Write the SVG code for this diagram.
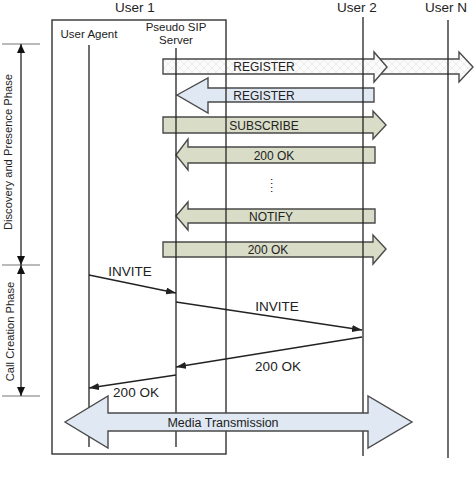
<svg xmlns="http://www.w3.org/2000/svg" width="474" height="482" viewBox="0 0 474 482">
<style>
text{font-family:"Liberation Sans",Arial,sans-serif;fill:#222}
.hdr{font-size:13.5px;text-anchor:middle}
.ent{font-size:11.5px;text-anchor:middle}
.lbl{font-size:12px;text-anchor:middle}
.cl{font-size:13.5px;text-anchor:middle}
.ph{font-size:11.2px;text-anchor:middle}
.life{stroke:#222;stroke-width:1.3;fill:none}
.box{stroke:#333;stroke-width:1.4;fill:none}
.msg{stroke:#4a4a4a;stroke-width:1.4;stroke-linejoin:miter}
.grn{fill:#d9ddc7}
.blu{fill:#dfe8f3}
.wht{fill:url(#hatch)}
.call{stroke:#222;stroke-width:1.3;fill:none;marker-end:url(#ah)}
.gl{stroke:#777;stroke-width:1.2}
.vl{stroke:#222;stroke-width:1.3}
</style>
<defs>
<pattern id="hatch" width="8" height="8" patternUnits="userSpaceOnUse">
<rect width="8" height="8" fill="#fbfbfb"/>
<path d="M0,0 L8,8 M8,0 L0,8" stroke="#ececec" stroke-width="1"/>
</pattern>
<marker id="ah" markerWidth="10" markerHeight="7" refX="10" refY="3.5" orient="auto" markerUnits="userSpaceOnUse">
<path d="M0,0 L10,3.5 L0,7 z" fill="#222"/>
</marker>
<marker id="tri" markerWidth="9" markerHeight="8" refX="9" refY="4" orient="auto" markerUnits="userSpaceOnUse">
<path d="M0,0 L9,4 L0,8 z" fill="#111"/>
</marker>
</defs>

<g id="headers">
<text class="hdr" x="135" y="12">User 1</text>
<text class="hdr" x="357" y="12">User 2</text>
<text class="hdr" x="446" y="12">User N</text>
</g>

<g id="messages">
<polygon class="msg wht" points="380,59 459,59 459,52 473,67 459,82 459,74 380,74"/>
<polygon class="msg wht" points="163,59 374,59 374,52 387,67 374,82 374,74 163,74"/>
<text class="lbl" x="264" y="71">REGISTER</text>
<polygon class="msg blu" points="177,95 208,78 208,88 374,88 374,102 208,102 208,113"/>
<text class="lbl" x="264" y="99.5">REGISTER</text>
<polygon class="msg grn" points="163,117 373,117 373,111 386,125 373,139 373,133 163,133"/>
<text class="lbl" x="264" y="129.5">SUBSCRIBE</text>
<polygon class="msg grn" points="176,155 188,139 188,147 375,147 375,163 188,163 188,170"/>
<text class="lbl" x="274" y="159.5">200 OK</text>
<text x="271" y="186" font-size="11" text-anchor="middle" transform="rotate(90 271 186)" letter-spacing="1">....</text>
<polygon class="msg grn" points="176,216 188,202 188,209 375,209 375,223 188,223 188,230"/>
<text class="lbl" x="271" y="220.5">NOTIFY</text>
<polygon class="msg grn" points="163,242 373,242 373,235 386,249 373,264 373,257 163,257"/>
<text class="lbl" x="268" y="254">200 OK</text>
</g>

<g id="user1">
<rect class="box" x="52" y="20" width="174" height="434"/>
</g>
<g id="user-agent">
<text class="ent" x="89" y="38">User Agent</text>
<line class="life" x1="89" y1="45" x2="89" y2="447"/>
</g>
<g id="pseudo-sip-server">
<text class="ent" x="176" y="31">Pseudo SIP</text>
<text class="ent" x="176" y="44">Server</text>
<line class="life" x1="176" y1="48" x2="176" y2="447"/>
</g>
<g id="user2">
<line class="life" x1="363" y1="17" x2="363" y2="456" stroke-width="2"/>
</g>
<g id="userN">
<line class="life" x1="448" y1="20" x2="448" y2="458"/>
</g>

<g id="connectors">
<line class="call" x1="89" y1="275" x2="176" y2="293"/>
<line class="call" x1="176" y1="302" x2="362" y2="330"/>
<line class="call" x1="362" y1="337" x2="176" y2="367"/>
<line class="call" x1="176" y1="375" x2="89" y2="388"/>
</g>
<g id="call-labels">
<text class="cl" x="130" y="276">INVITE</text>
<text class="cl" x="277" y="311">INVITE</text>
<text class="cl" x="278" y="371">200 OK</text>
<text class="cl" x="136" y="397">200 OK</text>
</g>

<g id="media">
<polygon class="msg blu" points="65,422 108,396 108,413 368,413 368,396 412,422 368,448 368,431 108,431 108,448"/>
<text x="223" y="426.5" font-size="12.5" text-anchor="middle">Media Transmission</text>
</g>

<g id="phases">
<line class="gl" x1="2" y1="44" x2="40" y2="44"/>
<line class="gl" x1="2" y1="265" x2="40" y2="265"/>
<line class="gl" x1="2" y1="396" x2="40" y2="396"/>
<line class="vl" x1="21" y1="150" x2="21" y2="44" marker-end="url(#tri)"/>
<line class="vl" x1="21" y1="150" x2="21" y2="265" marker-end="url(#tri)"/>
<line class="vl" x1="21" y1="330" x2="21" y2="265" marker-end="url(#tri)"/>
<line class="vl" x1="21" y1="330" x2="21" y2="396" marker-end="url(#tri)"/>
<text class="ph" x="12" y="152" transform="rotate(-90 12 152)">Discovery and Presence Phase</text>
<text class="ph" x="13.5" y="331.5" transform="rotate(-90 13.5 331.5)">Call Creation Phase</text>
</g>
</svg>
